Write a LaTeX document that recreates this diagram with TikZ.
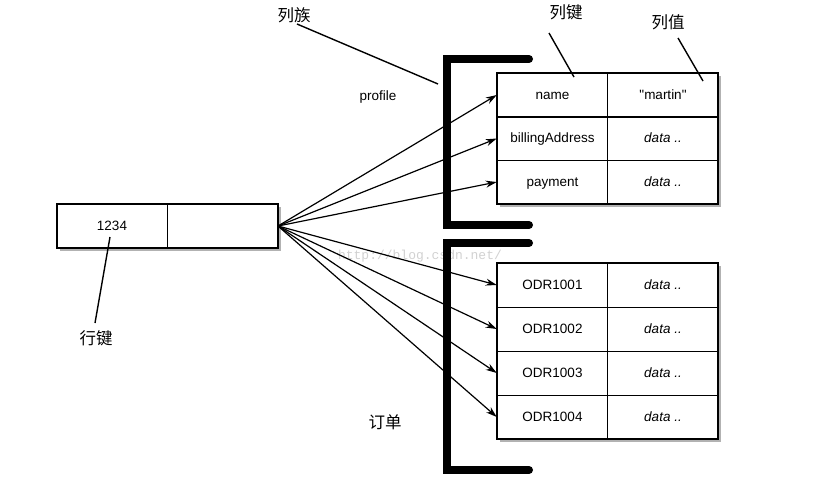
\documentclass[tikz,border=0pt]{standalone}
\usepackage{fontspec}
\setmainfont{Liberation Sans}
\newfontfamily\qfont{Liberation Sans}
\newfontfamily\cjk{Noto Sans CJK SC}
\newfontfamily\wmfont{Liberation Mono}
\usetikzlibrary{arrows.meta,shadows}
\begin{document}
\begin{tikzpicture}[x=1pt,y=-1pt,
  cell/.style={draw,line width=1pt,minimum width=110.5pt,minimum height=44pt,inner sep=0pt,text height=0.9em,text depth=0.04em,font=\fontsize{13.5}{15}\selectfont},
  frame/.style={draw,line width=1.3pt,fill=white,drop shadow={shadow xshift=2.5pt,shadow yshift=-2.5pt,fill=black!60}},
  arr/.style={line width=1.2pt,-{Stealth[length=11pt,width=7pt]}},
  bracketline/.style={line width=8pt,line cap=round,line join=miter},
  lab/.style={font=\cjk\fontsize{16.5}{18}\selectfont},
  pointer/.style={line width=1.4pt}]
\useasboundingbox (0,0) rectangle (817,491);
% watermark
\node[font=\wmfont\fontsize{13}{15}\selectfont,text=black!18] (wm) at (420,256) {http://blog.csdn.net/};
% row key box
\filldraw[frame] (57,204) rectangle (278,248);
\node[cell,minimum width=110pt] (rk) at (112,226) {1234};
\node[cell,minimum width=111pt] (rv) at (222.5,226) {};
\coordinate (src) at (278,226);
% profile table
\filldraw[frame] (497,73) rectangle (718,204);
\node[cell] (p1k) at (552.5,95) {name};
\node[cell] (p1v) at (663,95) {\qfont "martin"};
\node[cell] (p2k) at (552.5,138.5) {billingAddress};
\node[cell] (p2v) at (663,138.5) {\textit{data ..}};
\node[cell] (p3k) at (552.5,182) {payment};
\node[cell] (p3v) at (663,182) {\textit{data ..}};
% orders table
\filldraw[frame] (497,263) rectangle (718,439);
\node[cell] (o1k) at (552.5,285) {ODR1001};
\node[cell] (o1v) at (663,285) {\textit{data ..}};
\node[cell] (o2k) at (552.5,329) {ODR1002};
\node[cell] (o2v) at (663,329) {\textit{data ..}};
\node[cell] (o3k) at (552.5,373) {ODR1003};
\node[cell] (o3v) at (663,373) {\textit{data ..}};
\node[cell] (o4k) at (552.5,417) {ODR1004};
\node[cell] (o4v) at (663,417) {\textit{data ..}};
% brackets
\draw[bracketline] (529,59) -- (447,59) -- (447,225) -- (529,225);
\draw[bracketline] (529,243) -- (447,243) -- (447,470) -- (529,470);
% arrows
\foreach \t in {p1k,p2k,p3k,o1k,o2k,o3k,o4k}
  \draw[arr] (src) -- (\t.west);
% labels
\node[lab] (lz) at (294,15) {列族};
\node[lab] (lj) at (566,12) {列键};
\node[lab] (lv) at (668,22) {列值};
\node[lab] (lr) at (96,338) {行键};
\node[lab] (ld) at (385,422) {订单};
\node[font=\fontsize{13.5}{15}\selectfont] (pf) at (378,97) {profile};
\coordinate (lzend) at (438,84);
\coordinate (ljend) at (574,77);
\coordinate (lvend) at (703,81);
\coordinate (lrend) at (110,237);
\draw[pointer] (297,24) -- (lzend);
\draw[pointer] (549,33) -- (ljend);
\draw[pointer] (678,38) -- (lvend);
\draw[pointer] (95,323) -- (lrend);
\end{tikzpicture}
\end{document}
